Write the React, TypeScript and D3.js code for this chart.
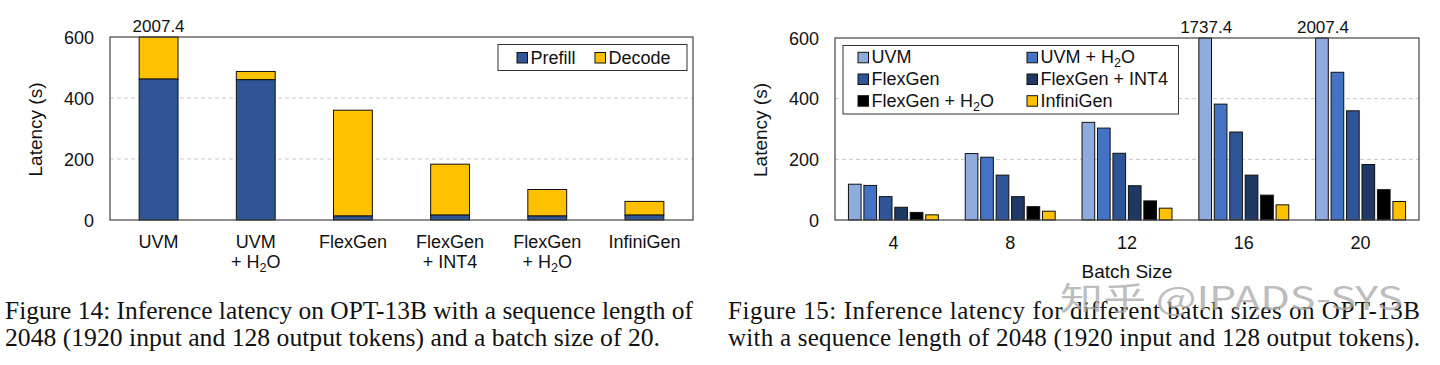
import React from "react";
import * as d3 from "d3";

// ---------- Data ----------
const fig14Categories = ["UVM", "UVM|+ H2O", "FlexGen", "FlexGen|+ INT4", "FlexGen|+ H2O", "InfiniGen"];
const fig14Prefill = [462, 460, 13, 16, 13, 16];
const fig14Total = [2007.4, 487, 360, 183, 100, 61];
const fig14Series = ["Prefill", "Decode"];

const fig15Groups = ["4", "8", "12", "16", "20"];
const fig15Series = ["UVM", "UVM + H2O", "FlexGen", "FlexGen + INT4", "FlexGen + H2O", "InfiniGen"];
const fig15UVM = [118, 219, 322, 1737.4, 2007.4];
const fig15UVMH2O = [114, 207, 303, 382, 487];
const fig15FlexGen = [77, 148, 220, 290, 360];
const fig15FlexGenINT4 = [42, 77, 113, 148, 183];
const fig15FlexGenH2O = [25, 44, 63, 82, 100];
const fig15InfiniGen = [17, 29, 39, 50, 61];

const yTicks = [0, 200, 400, 600];

const caption14 = [
  "Figure 14: Inference latency on OPT-13B with a sequence length of",
  "2048 (1920 input and 128 output tokens) and a batch size of 20.",
];
const caption15 = [
  "Figure 15: Inference latency for different batch sizes on OPT-13B",
  "with a sequence length of 2048 (1920 input and 128 output tokens).",
];
const caption14Widths = [688, 655];
const caption15Widths = [692, 692];
const watermark = "知乎 @IPADS-SYS";

// ---------- Styles ----------
const SANS = "'Liberation Sans', Arial, Helvetica, sans-serif";
const SERIF = "'Liberation Serif', 'Times New Roman', serif";
const FS = 18;
const TITLE_FS = 19;
const BLUE = "#2F5597";
const GOLD = "#FFC000";
const seriesColors = ["#8FAADC", "#4472C4", "#2F5597", "#203864", "#000000", "#FFC000"];

function Label({ text, x, y, anchor = "middle", size = FS }: any) {
  const parts = text.split("H2O");
  return (
    <text x={x} y={y} textAnchor={anchor} fontFamily={SANS} fontSize={size} fill="#111">
      {parts.map((p: string, i: number) => (
        <React.Fragment key={i}>
          <tspan>{p}</tspan>
          {i < parts.length - 1 && (
            <>
              <tspan>H</tspan>
              <tspan dy={4} fontSize={size * 0.7}>2</tspan>
              <tspan dy={-4}>O</tspan>
            </>
          )}
        </React.Fragment>
      ))}
    </text>
  );
}

function Fig14() {
  const x0 = 110, x1 = 693, yT = 37, yB = 220;
  const x = d3.scaleBand<string>().domain(fig14Categories).range([x0, x1]).paddingInner(0.6).paddingOuter(0.3);
  const y = d3.scaleLinear().domain([0, 600]).range([yB, yT]);
  const clip = (v: number) => Math.min(v, 600);
  return (
    <g>
      {yTicks.slice(1, 3).map((t) => (
        <line key={t} x1={x0} x2={x1} y1={y(t)} y2={y(t)} stroke="#c8c8c8" strokeDasharray="4,3" />
      ))}
      {fig14Categories.map((c, i) => {
        const bx = x(c)!;
        const bw = x.bandwidth();
        const p = fig14Prefill[i];
        const t = clip(fig14Total[i]);
        return (
          <g key={c}>
            <rect x={bx} y={y(t)} width={bw} height={y(p) - y(t)} fill={GOLD} stroke="#111" strokeWidth={1} />
            <rect x={bx} y={y(p)} width={bw} height={y(0) - y(p)} fill={BLUE} stroke="#111" strokeWidth={1} />
            {fig14Total[i] > 600 && (
              <text x={bx + bw / 2} y={yT - 5} textAnchor="middle" fontFamily={SANS} fontSize={FS - 1} fill="#111">
                {fig14Total[i]}
              </text>
            )}
            {c.split("|").map((line, k) => (
              <Label key={k} text={line} x={bx + bw / 2} y={248 + k * 20} />
            ))}
          </g>
        );
      })}
      <rect x={x0} y={yT} width={x1 - x0} height={yB - yT} fill="none" stroke="#444" strokeWidth={1.2} />
      {yTicks.map((t) => (
        <text key={t} x={x0 - 16} y={y(t) + 6.5} textAnchor="end" fontFamily={SANS} fontSize={FS} fill="#111">
          {t}
        </text>
      ))}
      <text transform={`translate(42,${(yT + yB) / 2 + 1}) rotate(-90)`} textAnchor="middle" fontFamily={SANS} fontSize={TITLE_FS} fill="#111">
        Latency (s)
      </text>
      {/* legend */}
      <rect x={498} y={44.5} width={189} height={26} fill="#fff" stroke="#333" strokeWidth={1} />
      {fig14Series.map((s, i) => (
        <g key={s}>
          <rect x={517 + i * 78} y={52.5} width={10.5} height={10.5} fill={i === 0 ? BLUE : GOLD} stroke="#111" strokeWidth={1} />
          <text x={530.5 + i * 78} y={63.5} fontFamily={SANS} fontSize={FS} fill="#111">{s}</text>
        </g>
      ))}
    </g>
  );
}

function Fig15() {
  const x0 = 835, x1 = 1419, yT = 38, yB = 220;
  const gx = d3.scaleBand<string>().domain(fig15Groups).range([x0, x1]).paddingInner(0.23).paddingOuter(0.115);
  const ix = d3.scaleBand<string>().domain(fig15Series).range([0, gx.bandwidth()]).paddingInner(0.18).paddingOuter(0);
  const y = d3.scaleLinear().domain([0, 600]).range([yB, yT]);
  const values = [fig15UVM, fig15UVMH2O, fig15FlexGen, fig15FlexGenINT4, fig15FlexGenH2O, fig15InfiniGen];
  return (
    <g>
      {yTicks.slice(1, 3).map((t) => (
        <line key={t} x1={x0} x2={x1} y1={y(t)} y2={y(t)} stroke="#c8c8c8" strokeDasharray="4,3" />
      ))}
      {fig15Groups.map((g, gi) => (
        <g key={g}>
          {fig15Series.map((s, si) => {
            const v = values[si][gi];
            const bx = gx(g)! + ix(s)!;
            const bw = ix.bandwidth();
            const vc = Math.min(v, 600);
            return (
              <g key={s}>
                <rect x={bx} y={y(vc)} width={bw} height={y(0) - y(vc)} fill={seriesColors[si]} stroke="#111" strokeWidth={1} />
                {v > 600 && (
                  <text x={bx + bw / 2 + 1} y={yT - 5} textAnchor="middle" fontFamily={SANS} fontSize={FS - 1} fill="#111">
                    {v}
                  </text>
                )}
              </g>
            );
          })}
          <text x={gx(g)! + gx.bandwidth() / 2} y={249} textAnchor="middle" fontFamily={SANS} fontSize={FS} fill="#111">{g}</text>
        </g>
      ))}
      <rect x={x0} y={yT} width={x1 - x0} height={yB - yT} fill="none" stroke="#444" strokeWidth={1.2} />
      {yTicks.map((t) => (
        <text key={t} x={x0 - 16} y={y(t) + 6.5} textAnchor="end" fontFamily={SANS} fontSize={FS} fill="#111">
          {t}
        </text>
      ))}
      <text transform={`translate(767,${(yT + yB) / 2 + 1}) rotate(-90)`} textAnchor="middle" fontFamily={SANS} fontSize={TITLE_FS} fill="#111">
        Latency (s)
      </text>
      <text x={(x0 + x1) / 2} y={278} textAnchor="middle" fontFamily={SANS} fontSize={TITLE_FS} fill="#111">Batch Size</text>
      {/* legend */}
      <rect x={843} y={45.5} width={335.5} height={68.5} fill="#fff" stroke="#333" strokeWidth={1} />
      {fig15Series.map((s, i) => {
        const col = i % 2, row = Math.floor(i / 2);
        const sx = col === 0 ? 858 : 1027;
        const base = 63.3 + row * 21.7;
        return (
          <g key={s}>
            <rect x={sx} y={base - 11} width={10.5} height={10.5} fill={seriesColors[i]} stroke="#111" strokeWidth={1} />
            <Label text={s} x={sx + 13.5} y={base} anchor="start" />
          </g>
        );
      })}
    </g>
  );
}

export default function App() {
  return (
    <svg width={1440} height={365} style={{ display: "block", position: "absolute", left: 0, top: 0, background: "#fff" }}>
      <rect width={1440} height={365} fill="#fff" />
      <Fig14 />
      <Fig15 />
      {caption14.map((line, i) => (
        <text key={i} x={5} y={319 + i * 27} fontFamily={SERIF} fontSize={25} fill="#111"
          textLength={caption14Widths[i]} lengthAdjust="spacingAndGlyphs">{line}</text>
      ))}
      {caption15.map((line, i) => (
        <text key={i} x={728} y={319 + i * 27} fontFamily={SERIF} fontSize={25} fill="#111"
          textLength={caption15Widths[i]} lengthAdjust="spacing">{line}</text>
      ))}
      <text x={1060} y={310} fontFamily="'Noto Sans CJK SC', sans-serif" fontSize={32} fill="#a8a8a8" fillOpacity={0.75}
        textLength={343} lengthAdjust="spacingAndGlyphs">{watermark}</text>
    </svg>
  );
}
